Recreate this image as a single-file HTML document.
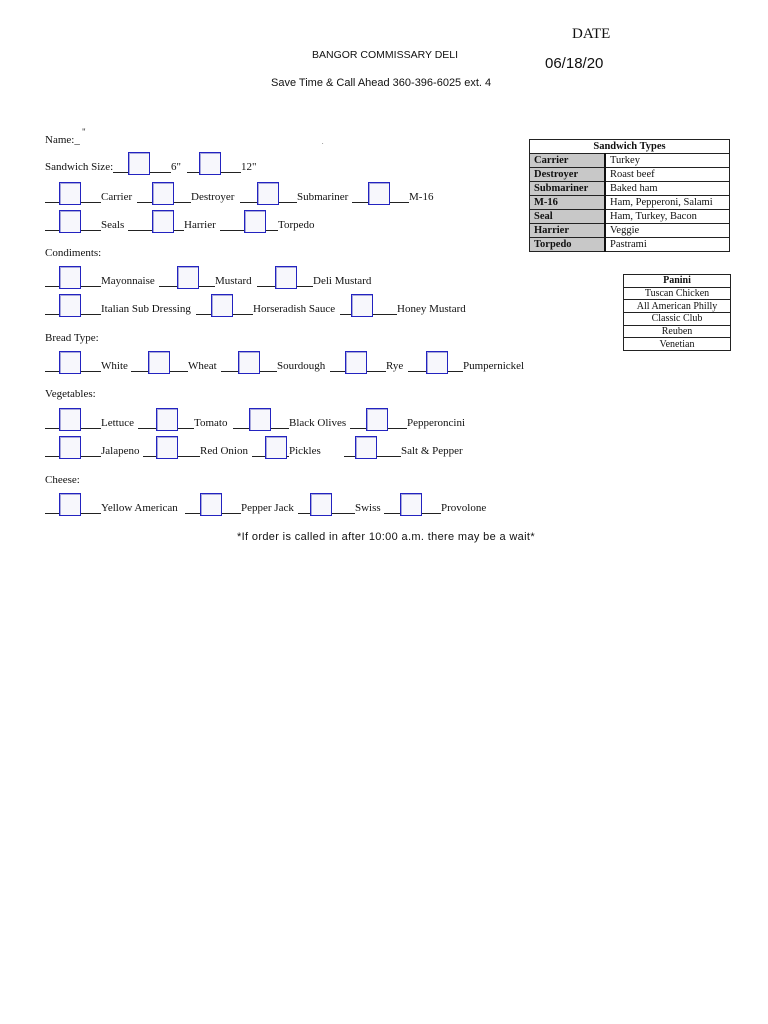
<!DOCTYPE html>
<html><head><meta charset="utf-8"><style>
body{margin:0;width:768px;height:1024px;background:#fff;position:relative;overflow:hidden;font-family:"Liberation Serif",serif;color:#111}
.t{position:absolute;font-size:11px;line-height:14px;white-space:nowrap}
.s{font-family:"Liberation Sans",sans-serif}
.u{position:absolute;height:0;border-top:1px solid #222}
.b{position:absolute;width:20px;height:21px;border:1.5px solid #2323c0;background:#f7f7fc;box-shadow:inset 1px 1px 0 #a8a8dc}
table{position:absolute;border-collapse:collapse;font-size:10.5px;line-height:12px}
td{border:1px solid #222;padding:0 4px;height:13px}
</style></head><body>
<div class="t" style="left:572px;top:25px;font-size:15px;line-height:18px">DATE</div>
<div class="t s" style="left:312px;top:48px;font-size:10.5px">BANGOR COMMISSARY DELI</div>
<div class="t s" style="left:545px;top:55px;font-size:15px;line-height:18px">06/18/20</div>
<div class="t s" style="left:271px;top:76px">Save Time &amp; Call Ahead 360-396-6025 ext. 4</div>

<div class="t" style="left:45px;top:133px">Name:_</div><div class="t" style="left:82px;top:125px;font-size:9px">"</div>
<div class="t" style="left:322px;top:136px;font-size:6px">.</div>

<div class="t" style="left:45px;top:160px">Sandwich Size:</div>
<div class="u" style="left:113px;width:58px;top:172px"></div><div class="b" style="left:128px;top:152px"></div><div class="t" style="left:171px;top:160px">6"</div>
<div class="u" style="left:187px;width:54px;top:172px"></div><div class="b" style="left:199px;top:152px"></div><div class="t" style="left:241px;top:160px">12"</div>

<div class="u" style="left:45px;width:56px;top:202px"></div><div class="b" style="left:59px;top:182px"></div><div class="t" style="left:101px;top:190px">Carrier</div>
<div class="u" style="left:137px;width:54px;top:202px"></div><div class="b" style="left:152px;top:182px"></div><div class="t" style="left:191px;top:190px">Destroyer</div>
<div class="u" style="left:240px;width:57px;top:202px"></div><div class="b" style="left:257px;top:182px"></div><div class="t" style="left:297px;top:190px">Submariner</div>
<div class="u" style="left:352px;width:57px;top:202px"></div><div class="b" style="left:368px;top:182px"></div><div class="t" style="left:409px;top:190px">M-16</div>

<div class="u" style="left:45px;width:56px;top:230px"></div><div class="b" style="left:59px;top:210px"></div><div class="t" style="left:101px;top:218px">Seals</div>
<div class="u" style="left:128px;width:56px;top:230px"></div><div class="b" style="left:152px;top:210px"></div><div class="t" style="left:184px;top:218px">Harrier</div>
<div class="u" style="left:220px;width:58px;top:230px"></div><div class="b" style="left:244px;top:210px"></div><div class="t" style="left:278px;top:218px">Torpedo</div>

<div class="t" style="left:45px;top:246px">Condiments:</div>
<div class="u" style="left:45px;width:56px;top:286px"></div><div class="b" style="left:59px;top:266px"></div><div class="t" style="left:101px;top:274px">Mayonnaise</div>
<div class="u" style="left:159px;width:56px;top:286px"></div><div class="b" style="left:177px;top:266px"></div><div class="t" style="left:215px;top:274px">Mustard</div>
<div class="u" style="left:257px;width:56px;top:286px"></div><div class="b" style="left:275px;top:266px"></div><div class="t" style="left:313px;top:274px">Deli Mustard</div>

<div class="u" style="left:45px;width:56px;top:314px"></div><div class="b" style="left:59px;top:294px"></div><div class="t" style="left:101px;top:302px">Italian Sub Dressing</div>
<div class="u" style="left:196px;width:57px;top:314px"></div><div class="b" style="left:211px;top:294px"></div><div class="t" style="left:253px;top:302px">Horseradish Sauce</div>
<div class="u" style="left:340px;width:57px;top:314px"></div><div class="b" style="left:351px;top:294px"></div><div class="t" style="left:397px;top:302px">Honey Mustard</div>

<div class="t" style="left:45px;top:331px">Bread Type:</div>
<div class="u" style="left:45px;width:56px;top:371px"></div><div class="b" style="left:59px;top:351px"></div><div class="t" style="left:101px;top:359px">White</div>
<div class="u" style="left:131px;width:57px;top:371px"></div><div class="b" style="left:148px;top:351px"></div><div class="t" style="left:188px;top:359px">Wheat</div>
<div class="u" style="left:221px;width:56px;top:371px"></div><div class="b" style="left:238px;top:351px"></div><div class="t" style="left:277px;top:359px">Sourdough</div>
<div class="u" style="left:330px;width:56px;top:371px"></div><div class="b" style="left:345px;top:351px"></div><div class="t" style="left:386px;top:359px">Rye</div>
<div class="u" style="left:408px;width:55px;top:371px"></div><div class="b" style="left:426px;top:351px"></div><div class="t" style="left:463px;top:359px">Pumpernickel</div>

<div class="t" style="left:45px;top:387px">Vegetables:</div>
<div class="u" style="left:45px;width:56px;top:428px"></div><div class="b" style="left:59px;top:408px"></div><div class="t" style="left:101px;top:416px">Lettuce</div>
<div class="u" style="left:138px;width:56px;top:428px"></div><div class="b" style="left:156px;top:408px"></div><div class="t" style="left:194px;top:416px">Tomato</div>
<div class="u" style="left:233px;width:56px;top:428px"></div><div class="b" style="left:249px;top:408px"></div><div class="t" style="left:289px;top:416px">Black Olives</div>
<div class="u" style="left:350px;width:57px;top:428px"></div><div class="b" style="left:366px;top:408px"></div><div class="t" style="left:407px;top:416px">Pepperoncini</div>

<div class="u" style="left:45px;width:56px;top:456px"></div><div class="b" style="left:59px;top:436px"></div><div class="t" style="left:101px;top:444px">Jalapeno</div>
<div class="u" style="left:143px;width:57px;top:456px"></div><div class="b" style="left:156px;top:436px"></div><div class="t" style="left:200px;top:444px">Red Onion</div>
<div class="u" style="left:252px;width:37px;top:456px"></div><div class="b" style="left:265px;top:436px"></div><div class="t" style="left:289px;top:444px">Pickles</div>
<div class="u" style="left:344px;width:57px;top:456px"></div><div class="b" style="left:355px;top:436px"></div><div class="t" style="left:401px;top:444px">Salt &amp; Pepper</div>

<div class="t" style="left:45px;top:473px">Cheese:</div>
<div class="u" style="left:45px;width:56px;top:513px"></div><div class="b" style="left:59px;top:493px"></div><div class="t" style="left:101px;top:501px">Yellow American</div>
<div class="u" style="left:185px;width:56px;top:513px"></div><div class="b" style="left:200px;top:493px"></div><div class="t" style="left:241px;top:501px">Pepper Jack</div>
<div class="u" style="left:298px;width:57px;top:513px"></div><div class="b" style="left:310px;top:493px"></div><div class="t" style="left:355px;top:501px">Swiss</div>
<div class="u" style="left:384px;width:57px;top:513px"></div><div class="b" style="left:400px;top:493px"></div><div class="t" style="left:441px;top:501px">Provolone</div>

<div class="t s" style="left:237px;top:530px;letter-spacing:0.35px">*If order is called in after 10:00 a.m. there may be a wait*</div>

<table style="left:529px;top:139px;width:201px">
<tr><td colspan="2" style="text-align:center;font-weight:bold">Sandwich Types</td></tr>
<tr><td style="background:#c8c8c8;font-weight:bold;width:66px;border-right:2px solid #111">Carrier</td><td>Turkey</td></tr>
<tr><td style="background:#c8c8c8;font-weight:bold;border-right:2px solid #111">Destroyer</td><td>Roast beef</td></tr>
<tr><td style="background:#c8c8c8;font-weight:bold;border-right:2px solid #111">Submariner</td><td>Baked ham</td></tr>
<tr><td style="background:#c8c8c8;font-weight:bold;border-right:2px solid #111">M-16</td><td>Ham, Pepperoni, Salami</td></tr>
<tr><td style="background:#c8c8c8;font-weight:bold;border-right:2px solid #111">Seal</td><td>Ham, Turkey, Bacon</td></tr>
<tr><td style="background:#c8c8c8;font-weight:bold;border-right:2px solid #111">Harrier</td><td>Veggie</td></tr>
<tr><td style="background:#c8c8c8;font-weight:bold;border-right:2px solid #111">Torpedo</td><td>Pastrami</td></tr>
</table>

<table style="left:623px;top:274px;width:108px;font-size:10px;line-height:11px;text-align:center">
<tr><td style="font-weight:bold;height:11.7px">Panini</td></tr>
<tr><td style="height:11.7px">Tuscan Chicken</td></tr>
<tr><td style="height:11.7px">All American Philly</td></tr>
<tr><td style="height:11.7px">Classic Club</td></tr>
<tr><td style="height:11.7px">Reuben</td></tr>
<tr><td style="height:11.7px">Venetian</td></tr>
</table>
</body></html>
